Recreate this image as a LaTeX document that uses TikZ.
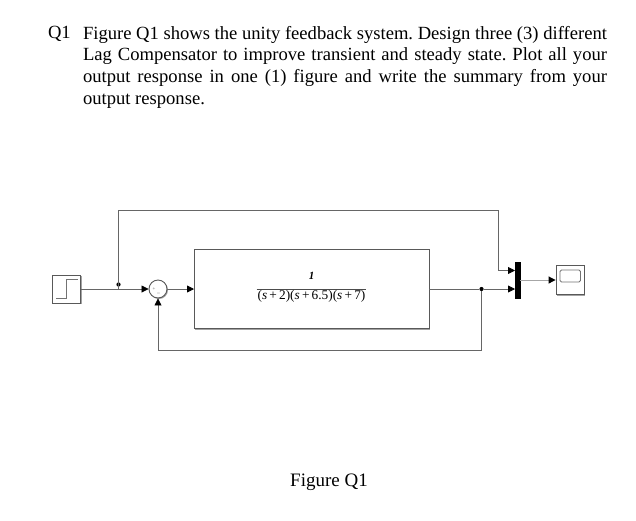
\documentclass[tikz,border=0pt]{standalone}
\usepackage{fontspec}
\setmainfont{Liberation Serif}
\usetikzlibrary{arrows.meta,shadows,calc}
\tikzset{
  x=1pt,y=-1pt,
  block/.style={draw=black!65,line width=0.9pt,fill=white,inner sep=0pt,drop shadow={shadow xshift=1pt,shadow yshift=-1pt,fill=black!45,opacity=0.8}},
  wire/.style={draw=black!60,line width=0.8pt},
  sig/.style={wire,-{Triangle[length=7pt,width=7pt,fill=black,color=black]}},
  dot/.style={circle,fill=black,inner sep=0pt,minimum size=4.2pt},
  para/.style={inner sep=0pt,outer sep=0pt,font=\fontsize{18.6}{21.7}\selectfont,anchor=north west}
}
\begin{document}
\begin{tikzpicture}
\useasboundingbox (0,0) rectangle (636,520);
\fill[white] (0,0) rectangle (636,520);
\node[para] (qnum) at (48,26) {Q1};
\node[para,text width=524pt,align=justify] (qtext) at (83,26) {\frenchspacing Figure Q1 shows the unity feedback system. Design three (3) different\linebreak Lag Compensator to improve transient and steady state. Plot all your\linebreak output response in one (1) figure and write the summary from your\linebreak output response.};
% blocks
\node[block,minimum width=28pt,minimum height=28pt] (stepb) at (66.7,289) {};
\draw[draw=black!55,line width=0.8pt] (56,298.5) -- (66,298.5) -- (66,279.5) -- (77.5,279.5);
\node[block,circle,minimum size=18pt] (sum) at (158,289) {};
\node[font=\fontsize{5}{5}\selectfont,text=black!60,inner sep=0pt] (plus) at (154,289.5) {+};
\node[font=\fontsize{6}{6}\selectfont,text=black!70,inner sep=0pt] (minus) at (158.5,294) {\textminus};
\node[block,minimum width=234.5pt,minimum height=79pt] (tf) at (311.7,289) {};
\node[inner sep=0pt] (tfnum) at (311.5,275.5) {\fontsize{11}{11}\selectfont\textbf{\textit{1}}};
\draw[draw=black!70,line width=0.6pt] (256.5,288.8) coordinate (barl) -- (366,288.8) coordinate (barr);
\node[inner sep=0pt] (tfden) at (311.5,296.5) {\fontsize{13.3}{13}\selectfont (\textit{s}\,+\,2)(\textit{s}\,+\,6.5)(\textit{s}\,+\,7)};
\node[draw=black,fill=black,minimum width=5pt,minimum height=36pt,inner sep=0pt] (mux) at (517.3,280) {};
\node[block,minimum width=28pt,minimum height=29pt] (scope) at (570,280) {};
\draw[draw=black!55,line width=0.8pt,rounded corners=1.5pt,fill=white] (560,270) rectangle (580.5,282) ;
% junctions
\node[dot] (j1) at (118.5,284.5) {};
\node[dot] (j2) at (481.5,289) {};
\coordinate (c1) at (118.5,289);
\coordinate (c2) at (118.5,210.5);
\coordinate (c3) at (498.5,210.5);
\coordinate (c4) at (498.5,270.5);
\coordinate (c5) at (481.5,350.5);
\coordinate (c6) at (158,350.5);
\coordinate (m1) at (515,270.5);
\coordinate (m2) at (515,289);
% connectors
\draw[sig] (stepb.east) -- (sum.west);
\draw[wire] (c1) -- (c2) -- (c3) -- (c4);
\draw[sig] (c4) -- (m1);
\draw[sig] (sum.east) -- (tf.west);
\draw[wire] (tf.east) -- (j2);
\draw[sig] (j2) -- (m2);
\draw[wire] (j2) -- (c5) -- (c6);
\draw[sig] (c6) -- (sum.south);
\draw[sig,draw=black!35,line width=1pt] (mux.east) -- (scope.west);
\node[font=\fontsize{19}{22}\selectfont,inner sep=0pt] (cap) at (329,482) {Figure Q1};
\end{tikzpicture}
\end{document}
